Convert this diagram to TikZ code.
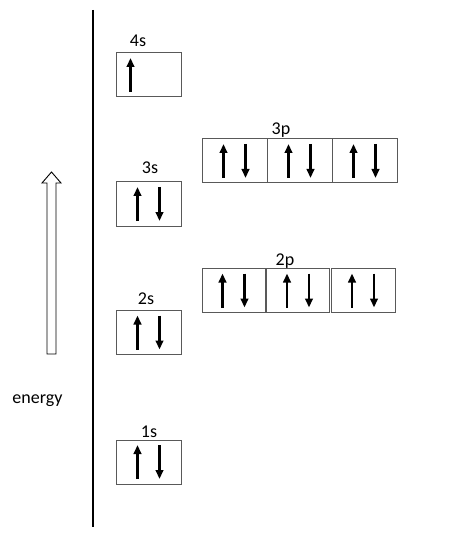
\documentclass[tikz,border=0pt]{standalone}
\usepackage{fontspec}
\setmainfont{Carlito}
\usetikzlibrary{arrows.meta, calc, positioning}

\begin{document}
\begin{tikzpicture}[x=1pt, y=-1pt,
                  orb/.style={draw=black!65, line width=1pt, minimum width=65pt, minimum height=44pt, inner sep=0pt, outer sep=0pt},
                  lvl/.style={anchor=base, font=\fontsize{18}{21}\selectfont},
                  spin/.style={line width=2.3pt, -{Triangle[length=9pt, width=7.5pt]}}]
                  \useasboundingbox (0, 0) rectangle (474, 545);

                  % energy axis
                  \coordinate (top) at (93, 10);
                  \coordinate (bot) at (93, 527);
                  \draw[line width=1.4pt] (top) -- (bot);
                  \draw[line width=0.9pt] (47, 354) -- (47, 183) -- (42, 183) -- (51.5, 172) -- (61, 183) -- (56, 183) -- (56, 354) -- cycle;
                  \node[lvl] (energy) at (37.5, 403) {energy};

                  % s orbitals
                  \node[orb] (s4) at (148.5, 75) {};
                  \node[orb] (s3) at (148.5, 204) {};
                  \node[orb] (s2) at (148.5, 332.5) {};
                  \node[orb] (s1) at (148.5, 462) {};

                  % p orbitals
                  \node[orb] (p3a) at (234.5, 161) {};
                  \node[orb, right=0pt of p3a] (p3b) {};
                  \node[orb, right=0pt of p3b] (p3c) {};
                  \node[orb, minimum width=63pt] (p2a) at (233.5, 290.5) {};
                  \node[orb, minimum width=63pt, right=1.5pt of p2a] (p2b) {};
                  \node[orb, minimum width=64pt, right=1.5pt of p2b] (p2c) {};

                  \node[lvl] (l4s) at (138, 47) {4s};
                  \node[lvl] (l3s) at (150, 174) {3s};
                  \node[lvl] (l2s) at (146, 304) {2s};
                  \node[lvl] (l1s) at (149, 437) {1s};
                  \node[lvl] (l3p) at (281, 135) {3p};
                  \node[lvl] (l2p) at (285, 265) {2p};

                  % electrons
                  \foreach \cell in {s3, s2, s1, p3a, p3b, p3c, p2a, p2b, p2c} {
                      \draw[spin] ($(\cell.center)+(-11, 17)$) -- ($(\cell.center)+(-11, -17)$);
                      \draw[spin] ($(\cell.center)+(11, -17)$) -- ($(\cell.center)+(11, 17)$);
                  }
                  \draw[spin] ($(s4.center)+(-18, 17)$) -- ($(s4.center)+(-18, -17)$);
              \end{tikzpicture}
\end{document}
